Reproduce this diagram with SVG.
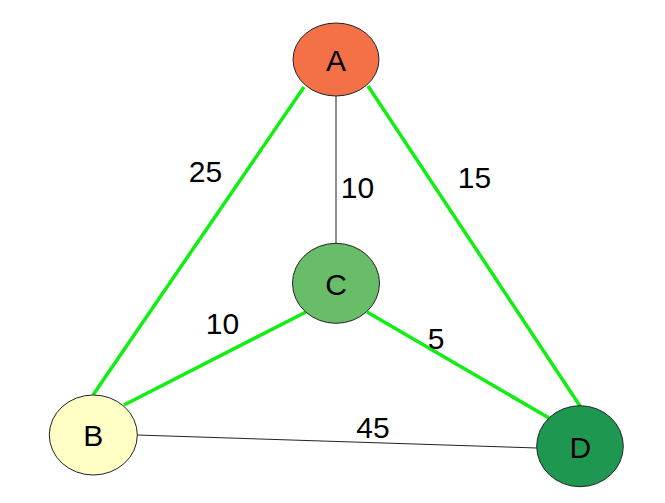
<svg xmlns="http://www.w3.org/2000/svg" width="665" height="503" viewBox="0 0 665 503">
<style>
.node{stroke:#222;stroke-width:1}
.lbl{font-family:"Liberation Sans",Arial,sans-serif;font-size:30px;fill:#000;text-anchor:middle}
.g{stroke:#11ee11;stroke-width:3.5;fill:none}
.k{stroke:#222;stroke-width:1;fill:none}
</style>
<rect width="665" height="503" fill="#fff"/>
<g id="connectors">
<line class="g" x1="304" y1="87" x2="93" y2="395"/>
<line class="g" x1="368" y1="86" x2="580" y2="406"/>
<line class="k" x1="336" y1="96" x2="336" y2="243"/>
<line class="g" x1="124" y1="405" x2="306" y2="312"/>
<line class="g" x1="367" y1="312" x2="549" y2="418"/>
<line class="k" x1="137" y1="435" x2="537" y2="448"/>
<text class="lbl" x="205.5" y="182">25</text>
<text class="lbl" x="357.5" y="198">10</text>
<text class="lbl" x="474.5" y="188">15</text>
<text class="lbl" x="222.5" y="334">10</text>
<text class="lbl" x="436" y="349">5</text>
<text class="lbl" x="373" y="437.5">45</text>
</g>
<g id="A"><ellipse class="node" cx="336" cy="59.5" rx="43" ry="36.5" fill="#f47148"/><text class="lbl" x="336" y="71">A</text></g>
<g id="C"><ellipse class="node" cx="336" cy="283.3" rx="43.5" ry="40" fill="#69bd69"/><text class="lbl" x="336" y="295">C</text></g>
<g id="B"><ellipse class="node" cx="93.3" cy="435" rx="44" ry="40" fill="#ffffc6"/><text class="lbl" x="93.3" y="446">B</text></g>
<g id="D"><ellipse class="node" cx="580" cy="446.2" rx="43.3" ry="40.5" fill="#1e9850"/><text class="lbl" x="580.3" y="458">D</text></g>
</svg>
